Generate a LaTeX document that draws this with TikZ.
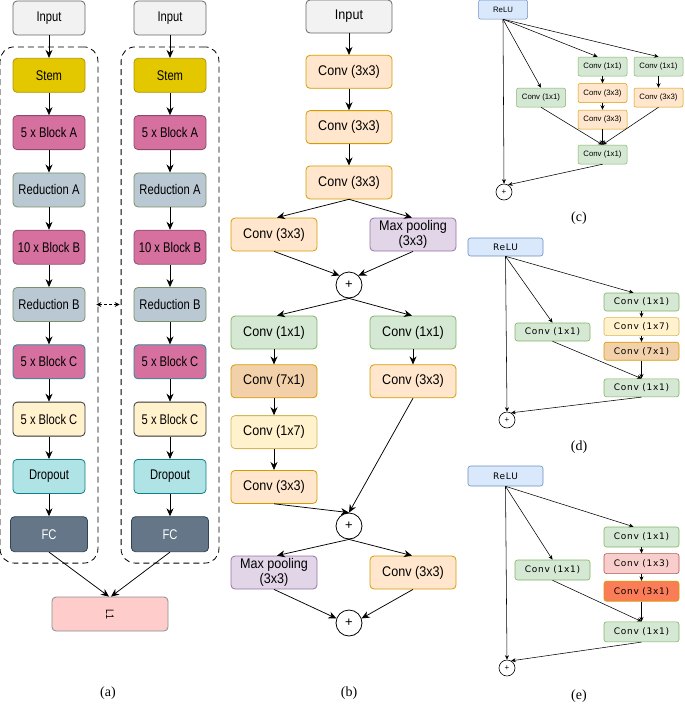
\documentclass[tikz,border=0pt]{standalone}
\usepackage{fontspec}
\setmainfont{Liberation Sans}
\newfontfamily\narrowfont[FakeStretch=0.8]{Liberation Sans}
\newfontfamily\convfont[FakeStretch=0.9]{Liberation Sans}
\newfontfamily\widefont[LetterSpace=8]{DejaVu Sans}
\newfontfamily\capfont{Liberation Serif}
\usepackage{graphicx}
\usetikzlibrary{arrows.meta, positioning, calc, fit}

\definecolor{inpfill}{HTML}{F2F2F2}\definecolor{inpdraw}{HTML}{666666}
\definecolor{stemfill}{HTML}{E3C800}\definecolor{stemdraw}{HTML}{B09500}
\definecolor{pinkfill}{HTML}{D6709E}\definecolor{pinkdraw}{HTML}{8B4C6B}
\definecolor{tealdraw}{HTML}{1C8A9A}
\definecolor{redfill}{HTML}{BAC8D3}\definecolor{reddraw}{HTML}{7A8F6A}
\definecolor{ylwfill}{HTML}{FFF2CC}\definecolor{ylwdraw}{HTML}{D6B656}
\definecolor{dropfill}{HTML}{B0E3E6}\definecolor{dropdraw}{HTML}{0E8088}
\definecolor{fcfill}{HTML}{647687}\definecolor{fcdraw}{HTML}{314354}
\definecolor{lonefill}{HTML}{FFCCCC}\definecolor{lonedraw}{HTML}{8C8C8C}
\definecolor{orgfill}{HTML}{FFE6CC}\definecolor{orgdraw}{HTML}{D79B00}
\definecolor{purfill}{HTML}{E1D5E7}\definecolor{purdraw}{HTML}{9673A6}
\definecolor{grnfill}{HTML}{D5E8D4}\definecolor{grndraw}{HTML}{82B366}
\definecolor{tanfill}{HTML}{F2D0A9}
\definecolor{blufill}{HTML}{DAE8FC}\definecolor{bludraw}{HTML}{6C8EBF}
\definecolor{rosefill}{HTML}{F8CECC}\definecolor{rosedraw}{HTML}{B85450}
\definecolor{coralfill}{HTML}{FA7D57}

\begin{document}
\begin{tikzpicture}[
        x=1pt, y=-1pt,
        node distance=22.5pt,
        arr/.style={-{Stealth[length=8pt,width=7pt]}, line width=0.75pt},
        thinarr/.style={-{Stealth[length=4.5pt,width=4pt]}, line width=0.55pt},
        blk/.style={draw, rounded corners=4pt, line width=0.8pt, minimum width=72pt, minimum height=34pt, inner sep=1pt, font=\narrowfont\fontsize{14}{16}\selectfont},
        conv/.style={draw, rounded corners=4pt, line width=0.8pt, minimum width=86pt, minimum height=33pt, inner sep=1pt, align=center, font=\convfont\fontsize{14}{15}\selectfont},
        sumb/.style={circle, draw, line width=0.8pt, minimum size=26pt, inner sep=0pt, font=\fontsize{13}{13}\selectfont},
        cbox/.style={draw, rounded corners=2pt, line width=0.5pt, minimum width=49pt, minimum height=19pt, inner sep=1pt, font=\fontsize{7.8}{9}\selectfont},
        dbox/.style={draw, rounded corners=2.5pt, line width=0.6pt, minimum width=75pt, minimum height=18pt, inner sep=1pt, font=\widefont\fontsize{9}{10}\selectfont},
        sums/.style={circle, draw, line width=0.6pt, minimum size=16pt, inner sep=0pt, font=\fontsize{8}{8}\selectfont},
        group/.style={draw, dash pattern=on 6pt off 4pt, line width=0.8pt, rounded corners=14pt, inner xsep=10pt, inner ysep=11pt},
        panel/.style={font=\capfont\fontsize{14}{16}\selectfont},
        inputc/.style={fill=inpfill, draw=inpdraw},
        stemc/.style={fill=stemfill, draw=stemdraw},
        pinka/.style={fill=pinkfill, draw=pinkdraw},
        pinkc/.style={fill=pinkfill, draw=tealdraw},
        redc/.style={fill=redfill, draw=reddraw},
        blockc/.style={fill=ylwfill, draw=black!80},
        dropc/.style={fill=dropfill, draw=dropdraw},
        fcc/.style={fill=fcfill, draw=fcdraw, text=white},
        orgc/.style={fill=orgfill, draw=orgdraw},
        purc/.style={fill=purfill, draw=purdraw},
        grnc/.style={fill=grnfill, draw=grndraw},
        tanc/.style={fill=tanfill, draw=orgdraw},
        ylwc/.style={fill=ylwfill, draw=ylwdraw},
        bluc/.style={fill=blufill, draw=bludraw},
        rosec/.style={fill=rosefill, draw=rosedraw},
        coralc/.style={fill=coralfill, draw=orgdraw}
    ]
        \useasboundingbox (0,0) rectangle (685,705);

        % (a) two backbones
        \foreach \s/\x in {L/49, R/170} {
            \node (in\s) [blk, inputc] at (\x,18) {Input};
            \node (stem\s) [blk, stemc, below=of in\s] {Stem};
            \node (blka\s) [blk, pinka, below=of stem\s] {5 x Block A};
            \node (reda\s) [blk, redc, below=of blka\s] {Reduction A};
            \node (blkb\s) [blk, pinka, below=of reda\s] {10 x Block B};
            \node (redb\s) [blk, redc, below=of blkb\s] {Reduction B};
            \node (blkc\s) [blk, pinkc, below=of redb\s] {5 x Block C};
            \node (ylwc\s) [blk, blockc, below=of blkc\s] {5 x Block C};
            \node (drop\s) [blk, dropc, below=of ylwc\s] {Dropout};
            \node (fc\s) [blk, fcc, minimum width=77pt, minimum height=35pt, below=of drop\s] {FC};

            \draw[arr] (in\s) -- (stem\s);
            \draw[arr] (stem\s) -- (blka\s);
            \draw[arr] (blka\s) -- (reda\s);
            \draw[arr] (reda\s) -- (blkb\s);
            \draw[arr] (blkb\s) -- (redb\s);
            \draw[arr] (redb\s) -- (blkc\s);
            \draw[arr] (blkc\s) -- (ylwc\s);
            \draw[arr] (ylwc\s) -- (drop\s);
            \draw[arr] (drop\s) -- (fc\s);
        }
        \node (grpL) [group, fit=(stemL)(fcL)] {};
        \node (grpR) [group, fit=(stemR)(fcR)] {};
        \draw[{Stealth[length=5pt,width=5pt]}-{Stealth[length=5pt,width=5pt]}, dash pattern=on 2.5pt off 2.5pt, line width=0.8pt]
            ([xshift=-2pt]redbL -| grpL.east) -- ([xshift=-1pt]redbR -| grpR.west);

        \node (lone) [blk, fill=lonefill, draw=lonedraw, minimum width=116pt] at (110,614) {\rotatebox{-90}{\fontsize{11}{11}\selectfont L1}};
        \draw[arr] (fcL.south) -- ([xshift=-1pt]lone.north);
        \draw[arr] (fcR.south) -- ([xshift=1pt]lone.north);
        \node[panel] at (108,693) {(a)};

        % (b) stem block
        \node (inB) [conv, inputc] at (349,16.5) {Input};
        \node (cva) [conv, orgc, below=21.5pt of inB] {Conv (3x3)};
        \node (cvb) [conv, orgc, below=21.5pt of cva] {Conv (3x3)};
        \node (cvc) [conv, orgc, below=21.5pt of cvb] {Conv (3x3)};
        \node (cvd) [conv, orgc] at (274,234.5) {Conv (3x3)};
        \node (poola) [conv, purc] at (413,234.5) {Max pooling\\(3x3)};
        \node (suma) [sumb] at (349,285) {+};
        \node (onea) [conv, grnc] at (274,332.5) {Conv (1x1)};
        \node (oneb) [conv, grnc] at (413,332.5) {Conv (1x1)};
        \node (seva) [conv, tanc, below=15pt of onea] {Conv (7x1)};
        \node (sevb) [conv, ylwc, below=17pt of seva] {Conv (1x7)};
        \node (cve) [conv, orgc, below=21pt of sevb] {Conv (3x3)};
        \node (cvf) [conv, orgc, below=15pt of oneb] {Conv (3x3)};
        \node (sumb) [sumb] at (349,526) {+};
        \node (poolb) [conv, purc] at (274,572.5) {Max pooling\\(3x3)};
        \node (cvg) [conv, orgc] at (413,572.5) {Conv (3x3)};
        \node (sumc) [sumb] at (349,623) {+};

        \draw[arr] (inB) -- (cva);
        \draw[arr] (cva) -- (cvb);
        \draw[arr] (cvb) -- (cvc);
        \draw[arr] (cvc.south) -- ([xshift=3pt]cvd.north);
        \draw[arr] (cvc.south) -- ([xshift=-1pt]poola.north);
        \draw[arr] (cvd.south) -- (suma.north west);
        \draw[arr] (poola.south) -- (suma.north east);
        \draw[arr] (suma.south) -- ([xshift=3pt]onea.north);
        \draw[arr] (suma.south) -- ([xshift=-1pt]oneb.north);
        \draw[arr] (onea) -- (seva);
        \draw[arr] (seva) -- (sevb);
        \draw[arr] (sevb) -- (cve);
        \draw[arr] (oneb) -- (cvf);
        \draw[arr] (cve.south) -- (sumb.north);
        \draw[arr] (cvf.south) -- (sumb.north);
        \draw[arr] (sumb.south) -- ([xshift=3pt]poolb.north);
        \draw[arr] (sumb.south) -- ([xshift=-1pt]cvg.north);
        \draw[arr] (poolb.south) -- (sumc.160);
        \draw[arr] (cvg.south) -- (sumc.20);
        \node[panel] at (349,693) {(b)};

        % (c) block A
        \node (reluc) [cbox, bluc] at (503,9.5) {ReLU};
        \node (midc) [cbox, grnc] at (602.5,66.5) {Conv (1x1)};
        \node (rgtc) [cbox, grnc] at (658.5,66.5) {Conv (1x1)};
        \node (lftc) [cbox, grnc] at (541,97.5) {Conv (1x1)};
        \node (thrc) [cbox, orgc, below=7pt of midc] {Conv (3x3)};
        \node (thrd) [cbox, orgc, below=7pt of thrc] {Conv (3x3)};
        \node (thre) [cbox, orgc] at (658.5,97.5) {Conv (3x3)};
        \node (botc) [cbox, grnc] at (602.5,154.5) {Conv (1x1)};
        \node (sumsc) [sums] at (504,192) {+};

        \draw[thinarr] (reluc.south) -- (sumsc.north);
        \draw[thinarr] (reluc.south) -- (lftc.north);
        \draw[thinarr] (reluc.south) -- ([xshift=-5pt]midc.north);
        \draw[thinarr] (reluc.south) -- (rgtc.north);
        \draw[thinarr] (midc) -- (thrc);
        \draw[thinarr] (thrc) -- (thrd);
        \draw[thinarr] (thrd) -- (botc);
        \draw[thinarr] (rgtc) -- (thre);
        \draw[thinarr] (lftc.south) -- (botc.north);
        \draw[thinarr] (thre.south) -- (botc.north);
        \draw[thinarr] (botc.south) -- (sumsc.60);
        \node[panel] at (579,218) {(c)};

        % (d) block B
        \node (relud) [dbox, bluc] at (505.5,247) {ReLU};
        \node (topd) [dbox, grnc] at (641.5,302) {Conv (1x1)};
        \node (sevd) [dbox, ylwc, below=6pt of topd] {Conv (1x7)};
        \node (seve) [dbox, tanc, below=6pt of sevd] {Conv (7x1)};
        \node (botd) [dbox, grnc, below=18pt of seve] {Conv (1x1)};
        \node (lftd) [dbox, grnc] at (552.5,332) {Conv (1x1)};
        \node (sumsd) [sums] at (507,420) {+};

        \draw[thinarr] (relud.south) -- (sumsd.north);
        \draw[thinarr] (relud.south) -- (lftd.north);
        \draw[thinarr] (relud.south) -- ([xshift=-8pt]topd.north);
        \draw[thinarr] (topd) -- (sevd);
        \draw[thinarr] (sevd) -- (seve);
        \draw[thinarr] (seve) -- (botd);
        \draw[thinarr] (lftd.south) -- (botd.north);
        \draw[thinarr] (botd.south) -- (sumsd.60);
        \node[panel] at (579,447) {(d)};

        % (e) block C
        \node (relue) [dbox, bluc, minimum height=20pt] at (505.5,476) {ReLU};
        \node (tope) [dbox, grnc, minimum height=20pt] at (641.5,537) {Conv (1x1)};
        \node (thrf) [dbox, rosec, minimum height=20pt, below=6pt of tope] {Conv (1x3)};
        \node (thrg) [dbox, coralc, minimum height=20pt, below=7pt of thrf] {Conv (3x1)};
        \node (bote) [dbox, grnc, minimum height=20pt, below=20pt of thrg] {Conv (1x1)};
        \node (lfte) [dbox, grnc, minimum height=20pt] at (552.5,570) {Conv (1x1)};
        \node (sumse) [sums] at (507,668) {+};

        \draw[thinarr] (relue.south) -- (sumse.north);
        \draw[thinarr] (relue.south) -- (lfte.north);
        \draw[thinarr] (relue.south) -- ([xshift=-8pt]tope.north);
        \draw[thinarr] (tope) -- (thrf);
        \draw[thinarr] (thrf) -- (thrg);
        \draw[thinarr] (thrg) -- (bote);
        \draw[thinarr] (lfte.south) -- (bote.north);
        \draw[thinarr] (bote.south) -- (sumse.60);
        \node[panel] at (579,696) {(e)};

    \end{tikzpicture}
\end{document}
